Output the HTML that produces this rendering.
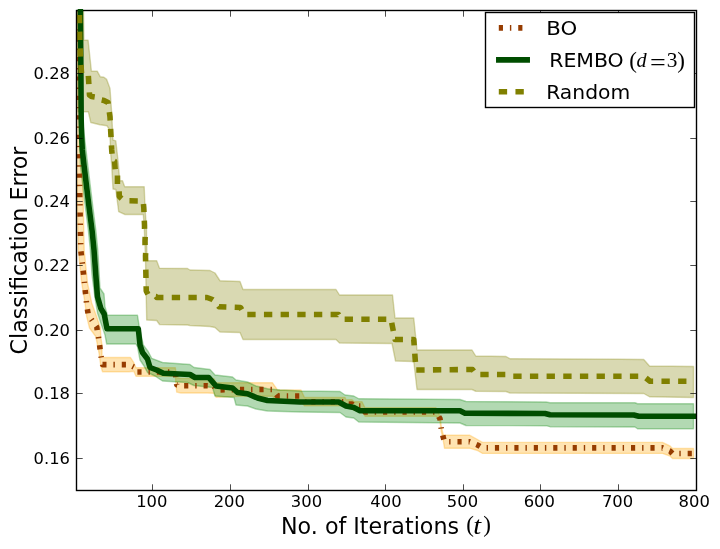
<!DOCTYPE html>
<html lang="en"><head><meta charset="utf-8"><title>Classification Error vs. Iterations</title>
<style>html,body{margin:0;padding:0;background:#fff;}svg{display:block;}text{font-family:'DejaVu Sans','Liberation Sans',sans-serif;fill:#000;}.m{font-family:'Liberation Serif','DejaVu Serif',serif;}</style>
</head><body>
<svg width="720" height="549" viewBox="0 0 720 549">
<rect x="0" y="0" width="720" height="549" fill="#ffffff"/>
<defs><clipPath id="ax"><rect x="76.00" y="10.00" width="620.00" height="480.00"/></clipPath></defs>
<g clip-path="url(#ax)" stroke-linejoin="round">
<polygon points="76.00,0.00 80.50,10.00 81.00,138.00 82.50,165.00 84.20,250.00 87.50,283.00 91.70,303.00 96.70,316.70 100.40,328.00 100.80,336.70 102.00,345.00 102.00,355.80 104.00,357.50 130.50,357.50 133.80,362.70 136.00,367.70 175.30,367.70 176.70,377.50 181.00,378.40 207.50,378.40 214.00,378.70 216.00,382.70 240.00,382.80 272.50,382.80 277.50,390.00 301.00,390.00 304.50,397.50 345.00,397.50 346.00,399.80 352.00,399.80 354.00,401.80 362.00,401.80 365.00,407.80 436.00,407.80 440.00,416.25 441.25,426.25 443.00,434.00 444.50,435.20 469.50,435.20 477.50,439.50 482.50,442.40 662.50,442.40 670.00,446.00 672.50,448.50 693.50,448.50 693.50,458.50 672.50,458.50 670.00,456.00 662.50,453.40 482.50,453.40 477.50,450.50 469.50,448.20 444.50,448.20 443.00,439.00 441.25,431.25 440.00,421.25 436.00,416.20 365.00,416.20 362.00,410.20 354.00,410.20 352.00,408.20 346.00,408.20 345.00,405.90 304.50,405.90 301.00,402.00 277.50,402.00 272.50,396.20 240.00,396.20 216.00,397.30 214.00,393.30 207.50,393.00 181.00,393.00 176.70,392.10 175.30,376.30 136.00,376.30 133.80,371.30 129.00,371.70 102.50,371.70 100.80,366.00 99.00,353.00 97.50,345.00 95.80,336.70 89.50,328.00 86.70,316.70 85.00,303.00 81.70,283.00 78.30,250.00 76.50,165.00 75.50,140.00 75.00,0.00" fill="rgb(255,165,0)" fill-opacity="0.3" stroke="rgb(255,165,0)" stroke-opacity="0.3" stroke-width="1.39"/>
<polygon points="82.50,0.00 82.50,120.00 87.20,160.00 89.80,181.70 92.80,206.70 96.00,231.70 97.80,250.00 100.00,288.00 104.00,294.00 105.00,306.70 107.50,315.30 137.50,315.30 139.20,326.70 143.30,345.00 148.30,351.70 151.70,358.30 162.50,362.50 190.00,364.50 194.00,367.50 210.00,369.50 215.00,375.00 232.50,377.00 236.00,380.00 247.50,382.00 256.00,386.00 267.50,388.75 280.00,390.00 300.00,391.00 340.00,391.50 345.00,395.00 353.75,396.00 358.75,398.75 460.00,399.50 466.00,401.50 546.00,402.00 550.00,402.70 635.00,402.75 637.50,403.75 693.50,403.75 693.50,428.75 637.50,428.75 635.00,427.00 550.00,426.70 546.00,425.70 466.00,425.50 460.00,423.00 358.75,422.00 353.75,418.00 346.00,417.00 340.00,412.50 300.00,412.00 267.50,411.00 256.00,409.00 247.50,406.00 236.00,405.00 234.00,397.50 215.00,396.00 212.50,387.50 194.00,385.50 187.50,382.50 162.50,381.00 155.00,376.00 147.50,372.50 144.00,366.00 140.00,360.00 137.50,346.70 135.80,344.00 106.70,344.00 105.00,335.00 100.80,323.00 97.50,313.00 95.00,298.00 92.00,275.00 90.30,250.00 88.50,231.70 85.30,206.70 82.30,181.70 80.30,165.00 79.50,137.00 79.50,0.00" fill="rgb(0,128,0)" fill-opacity="0.3" stroke="rgb(0,128,0)" stroke-opacity="0.3" stroke-width="1.39"/>
<polygon points="78.00,0.00 83.50,10.00 83.90,40.20 88.10,40.20 91.40,71.10 97.20,71.10 100.20,76.70 103.90,77.20 106.70,79.40 110.00,88.50 111.70,113.00 113.00,140.00 115.80,140.80 118.30,163.00 119.70,180.80 122.50,180.80 124.70,186.70 144.20,186.70 145.00,206.70 146.50,230.00 147.00,260.80 156.70,260.80 159.50,268.30 187.50,268.50 190.00,270.00 210.00,270.50 215.00,273.00 220.00,280.75 240.00,281.50 243.00,289.50 336.00,289.50 339.50,295.00 392.50,295.00 395.00,318.00 413.75,318.00 417.00,350.00 472.00,350.00 475.75,356.00 506.00,356.50 510.00,358.75 620.00,359.25 643.75,359.50 649.50,366.00 693.50,366.50 693.50,397.50 649.50,396.75 643.75,393.50 510.00,393.00 506.00,391.50 475.75,391.25 472.00,389.50 417.00,389.50 413.75,361.50 395.50,361.00 392.00,343.50 339.50,343.00 336.00,339.50 243.00,339.50 240.00,332.50 220.00,332.00 215.00,327.50 210.00,326.50 190.00,325.50 187.50,325.00 159.50,324.50 156.70,320.50 146.70,320.00 145.50,260.00 144.30,228.00 143.30,214.50 125.00,214.50 118.70,211.70 115.80,189.50 113.00,189.00 111.70,166.00 110.80,155.00 109.70,130.00 107.00,125.80 100.00,124.70 90.80,122.50 88.30,111.70 78.00,111.70 77.00,10.00 76.00,0.00" fill="rgb(128,128,0)" fill-opacity="0.3" stroke="rgb(128,128,0)" stroke-opacity="0.3" stroke-width="1.39"/>
<polyline points="77.80,0.00 78.00,140.00 79.20,165.00 80.80,250.00 84.20,280.00 86.70,305.00 88.30,315.00 96.70,327.00 98.30,336.00 99.70,346.00 100.80,355.00 102.50,364.60 129.00,364.60 133.80,367.00 136.00,372.00 175.30,372.00 176.70,384.80 181.00,385.70 207.50,385.70 214.00,386.00 216.00,390.00 240.00,389.50 272.50,389.50 277.50,396.00 301.00,396.00 304.50,401.70 345.00,401.70 346.00,404.00 352.00,404.00 354.00,406.00 362.00,406.00 365.00,412.00 436.00,412.00 440.00,418.75 441.25,428.75 443.00,436.50 444.50,441.70 469.50,441.70 477.50,445.00 482.50,447.90 662.50,447.90 670.00,451.00 672.50,453.50 693.50,453.50" fill="none" stroke="#963c00" stroke-width="5.56" stroke-dasharray="4.17 6.94 1.39 6.94" stroke-dashoffset="1.34"/>
<polyline points="80.30,0.00 80.40,20.00 80.80,60.00 81.20,120.00 81.70,137.00 82.30,150.00 84.00,165.00 86.00,181.70 89.00,206.70 92.20,231.70 94.00,250.00 95.80,275.00 97.50,296.70 100.80,308.30 104.20,314.00 107.00,328.70 138.30,328.70 140.00,345.00 142.50,352.50 147.50,359.00 150.00,367.50 156.70,370.00 163.30,373.30 190.00,374.50 195.00,377.50 208.75,377.50 216.00,386.00 232.50,388.00 237.50,392.50 247.50,393.75 257.50,398.00 267.50,400.50 300.00,402.00 338.75,402.00 346.00,406.00 353.75,407.50 360.00,410.75 460.00,410.75 465.00,413.25 545.00,413.50 550.00,414.75 633.75,415.00 638.75,416.25 696.50,416.25" fill="none" stroke="#004d00" stroke-width="5.56" stroke-linecap="square"/>
<polyline points="79.30,0.00 79.40,10.00 79.80,40.00 80.60,60.00 81.60,74.00 88.30,75.00 89.50,95.00 91.50,96.50 97.00,97.30 97.80,99.20 104.00,100.50 108.00,102.50 110.00,117.00 110.80,133.00 111.70,150.00 112.60,160.00 114.60,161.20 115.20,170.00 115.30,173.50 117.50,173.70 117.40,184.30 117.60,187.00 119.00,187.60 119.30,196.50 122.00,199.00 127.00,200.80 143.20,201.00 143.80,208.00 144.50,225.00 144.60,232.00 145.40,232.60 145.00,241.00 145.10,248.50 145.90,249.00 145.50,256.00 146.25,291.00 148.30,295.00 156.00,296.50 156.70,297.50 207.00,297.50 212.50,299.50 214.00,300.50 219.00,306.80 240.50,307.50 244.50,314.50 338.50,314.50 341.50,319.25 391.00,319.25 395.00,339.50 413.75,339.50 416.00,370.00 472.50,369.50 476.00,374.50 506.00,374.50 510.00,376.25 643.75,376.25 650.00,381.25 693.50,381.25" fill="none" stroke="#808000" stroke-width="5.56" stroke-dasharray="8.33 8.33" stroke-dashoffset="1.67"/>
</g>
<g stroke="#000" stroke-width="0.7" fill="none">
<line x1="152.5" y1="490.50" x2="152.5" y2="484.30"/>
<line x1="152.5" y1="10.50" x2="152.5" y2="16.70"/>
<line x1="230.5" y1="490.50" x2="230.5" y2="484.30"/>
<line x1="230.5" y1="10.50" x2="230.5" y2="16.70"/>
<line x1="308.5" y1="490.50" x2="308.5" y2="484.30"/>
<line x1="308.5" y1="10.50" x2="308.5" y2="16.70"/>
<line x1="385.5" y1="490.50" x2="385.5" y2="484.30"/>
<line x1="385.5" y1="10.50" x2="385.5" y2="16.70"/>
<line x1="463.5" y1="490.50" x2="463.5" y2="484.30"/>
<line x1="463.5" y1="10.50" x2="463.5" y2="16.70"/>
<line x1="540.5" y1="490.50" x2="540.5" y2="484.30"/>
<line x1="540.5" y1="10.50" x2="540.5" y2="16.70"/>
<line x1="618.5" y1="490.50" x2="618.5" y2="484.30"/>
<line x1="618.5" y1="10.50" x2="618.5" y2="16.70"/>
<line x1="696.5" y1="490.50" x2="696.5" y2="484.30"/>
<line x1="696.5" y1="10.50" x2="696.5" y2="16.70"/>
<line x1="76.50" y1="458.5" x2="82.70" y2="458.5"/>
<line x1="696.50" y1="458.5" x2="690.30" y2="458.5"/>
<line x1="76.50" y1="393.5" x2="82.70" y2="393.5"/>
<line x1="696.50" y1="393.5" x2="690.30" y2="393.5"/>
<line x1="76.50" y1="330.5" x2="82.70" y2="330.5"/>
<line x1="696.50" y1="330.5" x2="690.30" y2="330.5"/>
<line x1="76.50" y1="265.5" x2="82.70" y2="265.5"/>
<line x1="696.50" y1="265.5" x2="690.30" y2="265.5"/>
<line x1="76.50" y1="201.5" x2="82.70" y2="201.5"/>
<line x1="696.50" y1="201.5" x2="690.30" y2="201.5"/>
<line x1="76.50" y1="138.5" x2="82.70" y2="138.5"/>
<line x1="696.50" y1="138.5" x2="690.30" y2="138.5"/>
<line x1="76.50" y1="73.5" x2="82.70" y2="73.5"/>
<line x1="696.50" y1="73.5" x2="690.30" y2="73.5"/>
</g>
<rect x="76.50" y="10.50" width="620.00" height="480.00" fill="none" stroke="#000" stroke-width="1.39"/>
<defs><clipPath id="topedge"><rect x="77.30" y="9.00" width="618.70" height="2.30"/></clipPath></defs>
<g clip-path="url(#topedge)" fill="none" stroke-width="5.56">
<polyline points="80.30,0.00 80.40,20.00 80.80,60.00" stroke="#004d00"/>
<polyline points="79.30,0.00 79.40,10.00 79.80,40.00" stroke="#808000" stroke-dasharray="8.33 8.33" stroke-dashoffset="1.67"/>
</g>
<g font-size="15.28">
<text x="136.2" y="506.9" textLength="31.3" lengthAdjust="spacingAndGlyphs">100</text>
<text x="213.7" y="506.9" textLength="31.3" lengthAdjust="spacingAndGlyphs">200</text>
<text x="290.8" y="506.9" textLength="31.3" lengthAdjust="spacingAndGlyphs">300</text>
<text x="370.3" y="506.9" textLength="31.3" lengthAdjust="spacingAndGlyphs">400</text>
<text x="446.8" y="506.9" textLength="31.3" lengthAdjust="spacingAndGlyphs">500</text>
<text x="523.7" y="506.9" textLength="31.3" lengthAdjust="spacingAndGlyphs">600</text>
<text x="601.9" y="506.9" textLength="31.3" lengthAdjust="spacingAndGlyphs">700</text>
<text x="678.6" y="506.9" textLength="31.3" lengthAdjust="spacingAndGlyphs">800</text>
<text x="33.6" y="463.9" textLength="36.4" lengthAdjust="spacingAndGlyphs">0.16</text>
<text x="33.6" y="398.9" textLength="36.4" lengthAdjust="spacingAndGlyphs">0.18</text>
<text x="33.6" y="335.9" textLength="36.4" lengthAdjust="spacingAndGlyphs">0.20</text>
<text x="33.6" y="270.9" textLength="36.4" lengthAdjust="spacingAndGlyphs">0.22</text>
<text x="33.6" y="206.9" textLength="36.4" lengthAdjust="spacingAndGlyphs">0.24</text>
<text x="33.6" y="143.9" textLength="36.4" lengthAdjust="spacingAndGlyphs">0.26</text>
<text x="33.6" y="78.9" textLength="36.4" lengthAdjust="spacingAndGlyphs">0.28</text>
</g>
<text x="281.0" y="533.6" font-size="22.2">No. of Iterations <tspan class="m" font-size="23" x="466.2" y="532.0">(</tspan><tspan class="m" font-size="25" font-style="italic" x="473.3" y="534.0" textLength="7.9" lengthAdjust="spacingAndGlyphs">t</tspan><tspan class="m" font-size="23" x="483.2" y="532.0">)</tspan></text>
<text transform="translate(27.3,250.5) rotate(-90)" font-size="22.2" text-anchor="middle">Classification Error</text>
<rect x="485.5" y="12.5" width="209" height="95" fill="#fff" stroke="#000" stroke-width="1.39"/>
<line x1="498.8" y1="27.9" x2="527.2" y2="27.9" stroke="#963c00" stroke-width="5.56" stroke-dasharray="4.17 6.94 1.39 6.94"/>
<line x1="498.8" y1="59.9" x2="527.2" y2="59.9" stroke="#004d00" stroke-width="5.56" stroke-linecap="square"/>
<line x1="498.8" y1="91.8" x2="527.2" y2="91.8" stroke="#808000" stroke-width="5.56" stroke-dasharray="8.33 8.33"/>
<g font-size="19.44">
<text x="546.2" y="35" textLength="31.0" lengthAdjust="spacingAndGlyphs">BO</text>
<text x="549.2" y="66.8"><tspan textLength="74.5" lengthAdjust="spacingAndGlyphs">REMBO</tspan> <tspan class="m" font-size="23" x="629.3" y="67.6">(</tspan><tspan class="m" font-size="20.3" font-style="italic" x="636.4" y="66.7">d</tspan><tspan class="m" font-size="23" x="650.0" y="69.5" textLength="15.8" lengthAdjust="spacingAndGlyphs">=</tspan><tspan class="m" font-size="21.3" x="666.7" y="66.9">3</tspan><tspan class="m" font-size="23" x="677.3" y="67.6">)</tspan></text>
<text x="546.2" y="98.7" textLength="84.0" lengthAdjust="spacingAndGlyphs">Random</text>
</g>
</svg>
</body></html>
